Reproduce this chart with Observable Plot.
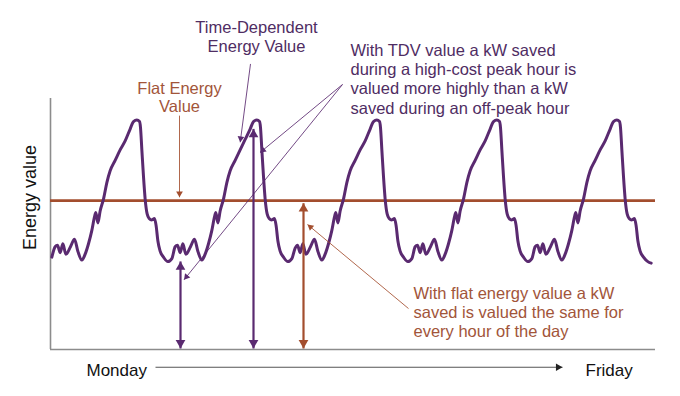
<!DOCTYPE html>
<html><head><meta charset="utf-8">
<script src="https://cdn.jsdelivr.net/npm/d3@7"></script>
<script src="https://cdn.jsdelivr.net/npm/@observablehq/plot@0.6"></script>
<style>html,body{margin:0;padding:0;background:#fff;overflow:hidden}</style>
</head><body><div id="chart"></div>
<script>
// ---- data (hour within the day, relative energy value; flat energy value = 1) ----
const dayNames = ["Monday", "Tuesday", "Wednesday", "Thursday", "Friday"];
const flatValue = 1;

const monday = [[0.27,0.62],[0.93,0.69],[1.4,0.70],[1.93,0.65],[2.47,0.71],[3.07,0.64],[4.0,0.69],[4.8,0.74],[5.47,0.66],[6.27,0.60],[6.93,0.64],[7.6,0.71],[8.27,0.80],[8.8,0.89],[9.07,0.92],[9.47,0.85],[9.93,0.93],[10.6,1.01],[11.27,1.12],[11.93,1.20],[12.93,1.27],[13.93,1.34],[14.93,1.40],[15.93,1.48],[16.6,1.53],[17.27,1.54],[17.8,1.53],[18.0,1.49],[18.27,1.34],[18.6,1.16],[18.93,1.01],[19.33,0.91],[19.73,0.88],[20.27,0.87],[20.8,0.88],[21.13,0.83],[21.47,0.73],[21.93,0.66],[22.6,0.62],[23.47,0.59]];
const tuesday = [[0.27,0.61],[0.93,0.69],[1.4,0.70],[1.93,0.65],[2.47,0.71],[3.07,0.64],[4.0,0.69],[4.8,0.74],[5.47,0.66],[6.27,0.60],[6.93,0.64],[7.6,0.71],[8.27,0.80],[8.8,0.89],[9.07,0.92],[9.47,0.85],[9.93,0.93],[10.6,1.01],[11.27,1.12],[11.93,1.20],[12.93,1.27],[13.93,1.34],[14.93,1.41],[15.93,1.48],[16.6,1.53],[17.27,1.54],[17.8,1.53],[18.0,1.49],[18.27,1.34],[18.6,1.16],[18.93,1.01],[19.33,0.91],[19.73,0.88],[20.27,0.87],[20.8,0.88],[21.13,0.83],[21.47,0.73],[21.93,0.66],[22.6,0.62],[23.47,0.59]];
const wednesday = [[0.27,0.61],[0.93,0.68],[1.4,0.70],[1.93,0.65],[2.47,0.71],[3.07,0.64],[4.0,0.69],[4.8,0.74],[5.47,0.66],[6.27,0.60],[6.93,0.64],[7.6,0.71],[8.27,0.80],[8.8,0.89],[9.07,0.92],[9.47,0.85],[9.93,0.93],[10.6,1.01],[11.27,1.12],[11.93,1.20],[12.93,1.27],[13.93,1.34],[14.93,1.40],[15.93,1.48],[16.6,1.53],[17.27,1.54],[17.8,1.53],[18.0,1.49],[18.27,1.34],[18.6,1.16],[18.93,1.01],[19.33,0.91],[19.73,0.88],[20.27,0.87],[20.8,0.88],[21.13,0.83],[21.47,0.73],[21.93,0.66],[22.6,0.62],[23.47,0.59]];
const thursday = [[0.27,0.61],[0.93,0.69],[1.4,0.70],[1.93,0.65],[2.47,0.71],[3.07,0.64],[4.0,0.69],[4.8,0.74],[5.47,0.66],[6.27,0.60],[6.93,0.64],[7.6,0.71],[8.27,0.80],[8.8,0.89],[9.07,0.92],[9.47,0.85],[9.93,0.93],[10.6,1.01],[11.27,1.12],[11.93,1.20],[12.93,1.27],[13.93,1.34],[14.93,1.40],[15.93,1.48],[16.6,1.53],[17.27,1.54],[17.8,1.53],[18.0,1.49],[18.27,1.34],[18.6,1.16],[18.93,1.01],[19.33,0.91],[19.73,0.88],[20.27,0.87],[20.8,0.88],[21.13,0.83],[21.47,0.73],[21.93,0.66],[22.6,0.62],[23.47,0.59]];
const friday = [[0.27,0.61],[0.93,0.69],[1.4,0.70],[1.93,0.65],[2.47,0.71],[3.07,0.64],[4.0,0.69],[4.8,0.74],[5.47,0.66],[6.27,0.60],[6.93,0.64],[7.6,0.71],[8.27,0.80],[8.8,0.89],[9.07,0.92],[9.47,0.85],[9.93,0.93],[10.6,1.01],[11.27,1.12],[11.93,1.20],[12.93,1.27],[13.93,1.34],[14.93,1.40],[15.93,1.48],[16.6,1.53],[17.27,1.54],[17.8,1.53],[18.0,1.49],[18.27,1.34],[18.6,1.16],[18.93,1.01],[19.33,0.91],[19.73,0.88],[20.27,0.87],[20.8,0.88],[21.13,0.83],[21.47,0.73],[21.93,0.66],[22.6,0.62],[23.47,0.59],[24.14,0.58]];

// Annotation anchors (hour of week, value)
const measureArrows = [ // double-headed vertical arrows
  {hour: 26.0, top: 0.591, bottom: 0.007, kind: "tdv"},
  {hour: 40.6, top: 1.481, bottom: 0.007, kind: "tdv"},
  {hour: 50.6, top: 0.982, bottom: 0.007, kind: "flat"}
];
const leaders = [ // thin callout lines, from label to target
  {x1: 40.0, y1: 1.917, x2: 37.94, y2: 1.391, kind: "tdv"},
  {x1: 25.8, y1: 1.570, x2: 25.8, y2: 1.022, kind: "flat"},
  {x1: 58.4, y1: 1.779, x2: 41.9, y2: 1.322, kind: "tdv"},
  {x1: 58.4, y1: 1.779, x2: 26.7, y2: 0.468, kind: "tdv"},
  {x1: 71.6, y1: 0.275, x2: 51.4, y2: 0.839, kind: "flat"}
];
const timeArrow = {x1: 21.0, x2: 102.4, y: -0.119};
const dayLabels = [
  {text: "Monday", hour: 7.2, value: -0.176},
  {text: "Friday", hour: 107.0, value: -0.176}
];
const notes = [
  {text: "Time-Dependent\nEnergy Value", hour: 41.2, value: 2.218, anchor: "middle", kind: "tdv", lh: 1.18},
  {text: "Flat Energy\nValue", hour: 25.8, value: 1.799, anchor: "middle", kind: "flat", lh: 1.07},
  {text: "With TDV value a kW saved\nduring a high-cost peak hour is\nvalued more highly than a kW\nsaved during an off-peak hour", hour: 60.0, value: 2.066, anchor: "start", kind: "tdv", lh: 1.18},
  {text: "With flat energy value a kW\nsaved is valued the same for\nevery hour of the day", hour: 72.6, value: 0.432, anchor: "start", kind: "flat", lh: 1.16}
];
const yLabel = {text: "Energy value", hour: -3.96, value: 1.02};

// ---- styles ----
const colors = {tdv: "#5a2a70", flat: "#a34e2e"};
const textColors = {tdv: "#4f2d63", flat: "#a2553a"};
const W = 680, H = 396, mL = 50, mR = 25, mT = 98, mB = 47;
const xDomain = [0, 121], yDomain = [0, 1.685];
const kx = (W - mL - mR) / (xDomain[1] - xDomain[0]);
const ky = (H - mT - mB) / (yDomain[1] - yDomain[0]);

const series = [monday, tuesday, wednesday, thursday, friday]
  .flatMap((arr, d) => arr.map(([h, v]) => ({day: dayNames[d], hour: d * 24 + h, value: v})));

// arrowhead helper: filled triangle whose tip sits on (x, y)
function head(x, y, angle, r, color) {
  const a = Math.sqrt(Math.PI * r * r / (3 * Math.sqrt(3)));
  const t = angle * Math.PI / 180;
  return Plot.dot([{x, y}], {
    x: "x", y: "y", symbol: "triangle", r, rotate: angle,
    fill: color, stroke: "none",
    dx: -2 * a * Math.sin(t), dy: 2 * a * Math.cos(t)
  });
}
function angleOf(x1, y1, x2, y2) {
  const dx = (x2 - x1) * kx, dy = -(y2 - y1) * ky;
  return Math.atan2(dx, -dy) * 180 / Math.PI;
}

const marks = [
  Plot.ruleX([0], {stroke: "#8c8c8c", strokeWidth: 1.6}),
  Plot.ruleY([0], {stroke: "#8c8c8c", strokeWidth: 1.6}),
  Plot.ruleY([flatValue], {stroke: colors.flat, strokeWidth: 2.8}),
  Plot.line(series, {x: "hour", y: "value", curve: "monotone-x", stroke: colors.tdv, strokeWidth: 3, strokeLinejoin: "round", strokeLinecap: "round"}),
  // vertical measure arrows
  Plot.link(measureArrows, {x1: "hour", x2: "hour", y1: d => d.top, y2: d => d.bottom, stroke: d => colors[d.kind], strokeWidth: 2.2}),
  ...measureArrows.flatMap(d => [
    head(d.hour, d.top, 0, 3.6, colors[d.kind]),
    head(d.hour, d.bottom, 180, 3.6, colors[d.kind])
  ]),
  // leader lines
  Plot.link(leaders, {x1: "x1", y1: "y1", x2: "x2", y2: "y2", stroke: d => colors[d.kind], strokeWidth: 1, strokeOpacity: 0.85}),
  ...leaders.map(d => head(d.x2, d.y2, angleOf(d.x1, d.y1, d.x2, d.y2), 2.5, colors[d.kind])),
  // time arrow under the axis
  Plot.link([timeArrow], {x1: "x1", x2: "x2", y1: "y", y2: "y", stroke: "#555", strokeWidth: 1.2}),
  head(timeArrow.x2, timeArrow.y, 90, 2.8, "#222"),
  Plot.text(dayLabels, {x: "hour", y: "value", text: "text", textAnchor: "start", lineAnchor: "bottom", fontSize: 17, fill: "#111"}),
  Plot.text([yLabel], {x: "hour", y: "value", text: "text", rotate: -90, textAnchor: "middle", lineAnchor: "middle", fontSize: 18, fill: "#111"}),
  ...notes.map(n => Plot.text([n], {x: "hour", y: "value", text: "text", textAnchor: n.anchor, lineAnchor: "top", lineHeight: n.lh, fontSize: 16.5, fill: textColors[n.kind]}))
];

const chart = Plot.plot({
  width: W, height: H,
  marginLeft: mL, marginRight: mR, marginTop: mT, marginBottom: mB,
  x: {domain: xDomain, axis: null},
  y: {domain: yDomain, axis: null},
  style: {fontFamily: "'Liberation Sans', Arial, sans-serif", background: "#fff", overflow: "visible"},
  marks
});
document.getElementById("chart").appendChild(chart);
</script>
</body></html>
